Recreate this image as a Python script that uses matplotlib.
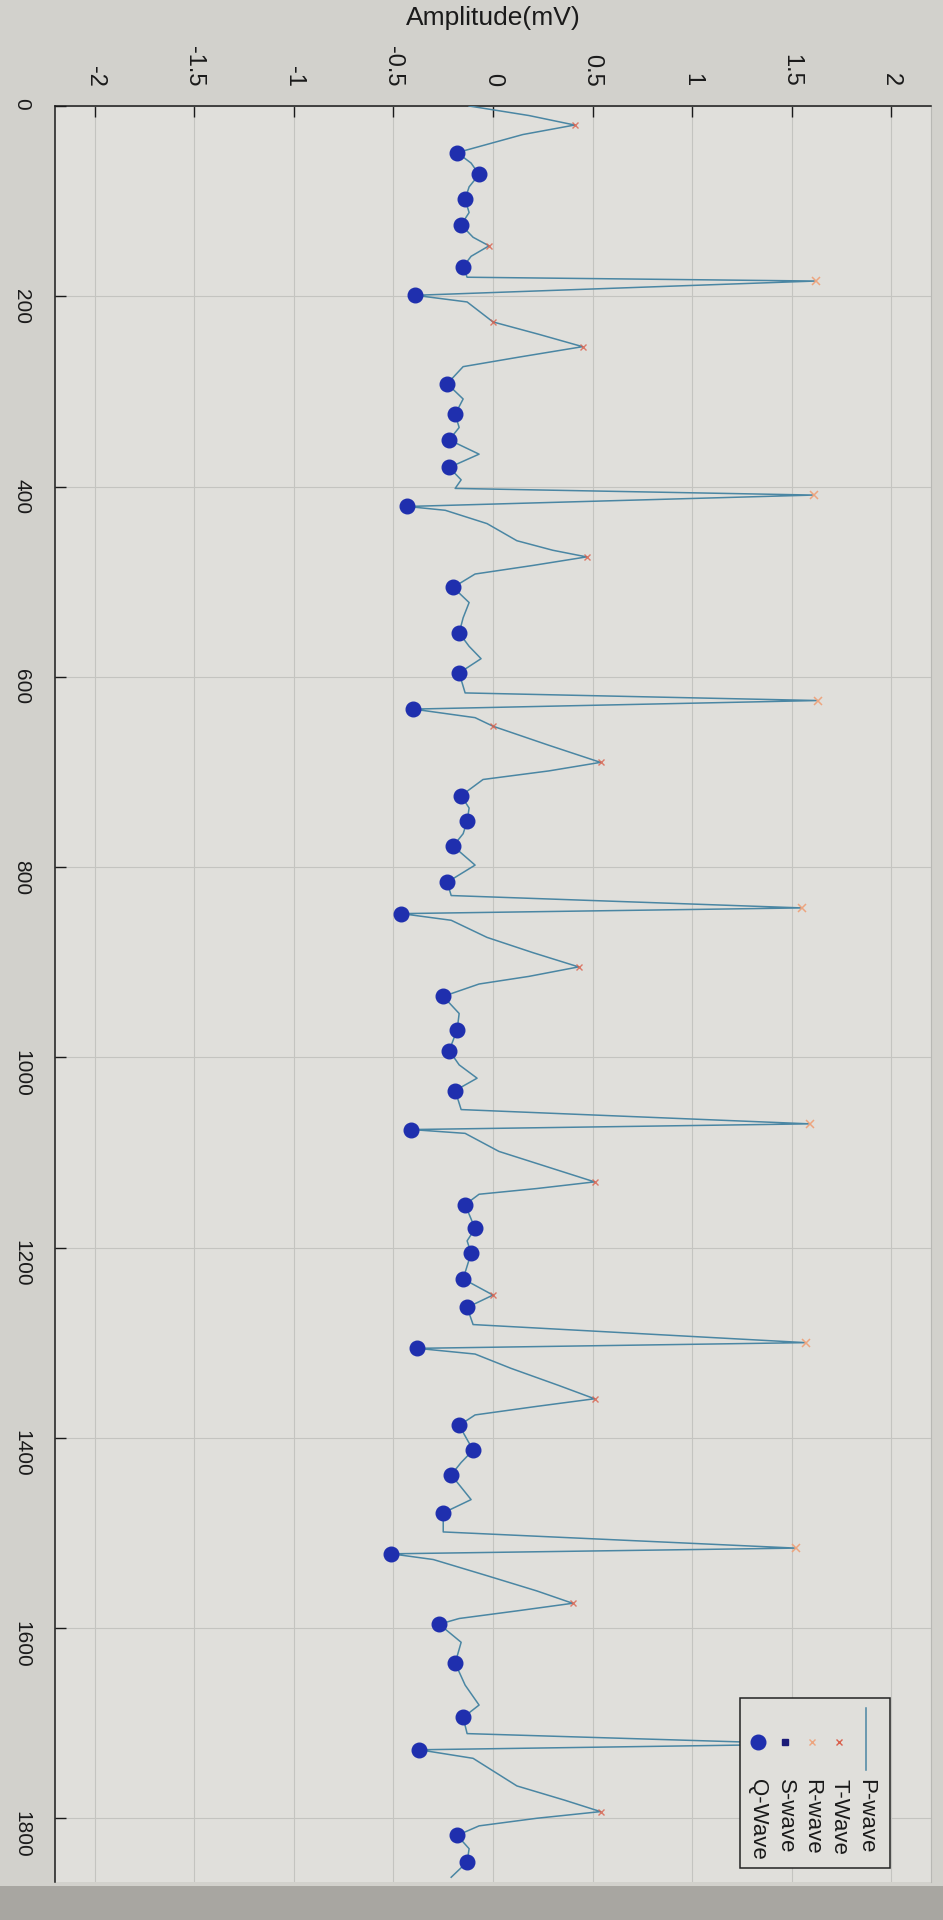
"""ECG trace with detected P/Q/R/S/T points, drawn rotated (samples run down the page)."""

import matplotlib.pyplot as plt
from matplotlib.lines import Line2D
from matplotlib.patches import Rectangle

plt.rcParams['font.family'] = ['Liberation Sans', 'DejaVu Sans']

# ── Data ────────────────────────────────────────────────────────────────────
sample_pts = [0, 10, 20, 30, 49, 60, 72, 85, 98, 112, 125, 138, 147, 158, 169,
              180, 184, 199, 206, 227, 240, 253, 264, 274, 292, 308, 324, 338,
              351, 366, 380, 393, 402, 409, 421, 425, 439, 457, 467, 474, 483,
              492, 506, 522, 538, 554, 568, 581, 596, 617, 625, 634, 643, 652,
              672, 690, 699, 708, 725, 738, 752, 765, 778, 798, 816, 830, 843,
              849, 856, 874, 890, 905, 915, 923, 936, 954, 971, 993, 1008, 1022,
              1035, 1055, 1070, 1076, 1080, 1099, 1117, 1131, 1138, 1144, 1155,
              1180, 1193, 1206, 1233, 1250, 1263, 1281, 1300, 1306, 1312, 1327,
              1345, 1359, 1367, 1376, 1387, 1413, 1426, 1439, 1465, 1479, 1499,
              1516, 1522, 1528, 1545, 1561, 1574, 1582, 1590, 1596, 1615, 1637,
              1660, 1681, 1694, 1711, 1722, 1728, 1737, 1766, 1781, 1793, 1800,
              1808, 1818, 1832, 1846, 1862]
amp_pts = [-0.12, 0.18, 0.41, 0.15, -0.18, -0.11, -0.07, -0.12, -0.14, -0.12,
           -0.16, -0.10, -0.02, -0.11, -0.15, -0.13, 1.62, -0.39, -0.13, 0.00,
           0.23, 0.45, 0.13, -0.15, -0.23, -0.15, -0.19, -0.17, -0.22, -0.07,
           -0.22, -0.16, -0.19, 1.61, -0.43, -0.24, -0.03, 0.12, 0.30, 0.47,
           0.20, -0.09, -0.20, -0.12, -0.15, -0.17, -0.12, -0.06, -0.17, -0.14,
           1.63, -0.40, -0.09, 0.00, 0.28, 0.54, 0.28, -0.05, -0.16, -0.12,
           -0.13, -0.15, -0.20, -0.09, -0.23, -0.21, 1.55, -0.46, -0.21, -0.03,
           0.20, 0.43, 0.18, -0.07, -0.25, -0.17, -0.18, -0.22, -0.17, -0.08,
           -0.19, -0.16, 1.59, -0.41, -0.14, 0.03, 0.30, 0.51, 0.22, -0.07,
           -0.14, -0.09, -0.13, -0.11, -0.15, 0.00, -0.13, -0.10, 1.57, -0.38,
           -0.09, 0.09, 0.33, 0.51, 0.22, -0.09, -0.17, -0.10, -0.16, -0.21,
           -0.11, -0.25, -0.25, 1.52, -0.51, -0.30, -0.03, 0.22, 0.40, 0.12,
           -0.17, -0.27, -0.16, -0.19, -0.14, -0.07, -0.15, -0.13, 1.60, -0.37,
           -0.10, 0.12, 0.36, 0.54, 0.22, -0.07, -0.18, -0.12, -0.13, -0.21]

r_samples = [184, 409, 625, 843, 1070, 1300, 1516, 1722]
t_samples = [20, 147, 227, 253, 474, 652, 690, 905, 1131, 1250, 1359, 1574, 1793]
s_samples = [199, 421, 634, 849, 1076, 1306, 1522, 1728]
q_samples = [49, 72, 98, 125, 169, 199, 292, 324, 351, 380, 421, 506, 554, 596,
             634, 725, 752, 778, 816, 849, 936, 971, 993, 1035, 1076, 1155, 1180,
             1206, 1233, 1263, 1306, 1387, 1413, 1439, 1479, 1522, 1596, 1637,
             1694, 1728, 1818, 1846]

amp_ticks = [-2, -1.5, -1, -0.5, 0, 0.5, 1, 1.5, 2]
amp_labels = ['-2', '-1.5', '-1', '-0.5', '0', '0.5', '1', '1.5', '2']
sample_ticks = [0, 200, 400, 600, 800, 1000, 1200, 1400, 1600, 1800]
legend_labels = ['P-wave', 'T-Wave', 'R-wave', 'S-wave', 'Q-Wave']

assert len(sample_pts) == len(amp_pts)
amp_at = dict(zip(sample_pts, amp_pts))

# ── Style ───────────────────────────────────────────────────────────────────
FIG_BG = '#d2d1cc'
AX_BG = '#e0dfdb'
SIG_C = '#4a86a3'
Q_C = '#1f2fae'
S_C = '#1b1b78'
R_C = '#eda57f'
T_C = '#d9604c'
W, H = 943, 1920


def fx(px):
    return px / W


def fy(py):
    return 1 - py / H


fig = plt.figure(figsize=(W / 100, H / 100), dpi=100, facecolor=FIG_BG)
ax = fig.add_axes([fx(55), fy(1882), (931 - 55) / W, (1882 - 106) / H])
ax.set_facecolor(AX_BG)

# rotated view: amplitude across, samples down
ax.plot(amp_pts, sample_pts, color=SIG_C, lw=1.1, zorder=3)
ax.plot([amp_at[s] for s in s_samples], s_samples, 's', color=S_C, ms=5, zorder=4)
ax.plot([amp_at[s] for s in q_samples], q_samples, 'o', color=Q_C, mec=Q_C,
        ms=10.5, zorder=5)
ax.plot([amp_at[s] for s in r_samples], r_samples, 'x', color=R_C, ms=5.5,
        mew=1.1, zorder=6)
ax.plot([amp_at[s] for s in t_samples], t_samples, 'x', color=T_C, ms=5,
        mew=1.0, alpha=0.8, zorder=6)

ax.set_xlim(-2.2, 2.2)
ax.set_ylim(1867, 0)

ax.xaxis.tick_top()
ax.set_xticks(amp_ticks)
ax.set_xticklabels(amp_labels, rotation=270, fontsize=17)
ax.set_yticks(sample_ticks)
ax.set_yticklabels([str(s) for s in sample_ticks], rotation=270, fontsize=15)
ax.tick_params(axis='x', direction='in', length=8, width=1, pad=14, colors='#1a1a1a')
ax.tick_params(axis='y', direction='in', length=8, width=1, pad=17, colors='#1a1a1a')

ax.set_xlabel('Amplitude(mV)', fontsize=19, color='#1a1a1a', va='center')
ax.xaxis.set_label_position('top')
ax.xaxis.set_label_coords(0.5, 1 + (106 - 25) / (1882 - 106))

ax.grid(True, color='#c4c4c0', lw=0.8)
ax.set_axisbelow(True)
for side in ['top', 'left']:
    ax.spines[side].set_color('#1a1a1a')
    ax.spines[side].set_linewidth(1.1)
ax.spines['right'].set_color('#b8b8b4')
ax.spines['bottom'].set_visible(False)

# ── Legend (manual, rotated like the rest of the photo) ────────────────────
fig.add_artist(Rectangle((fx(740), fy(1868)), (890 - 740) / W, (1868 - 1698) / H,
                         transform=fig.transFigure, facecolor=AX_BG,
                         edgecolor='#222222', lw=1.1, zorder=10))
col_x = [866, 839, 812, 785, 758]
fig.add_artist(Line2D([fx(866), fx(866)], [fy(1708), fy(1770)],
                      transform=fig.transFigure, color=SIG_C, lw=1.1, zorder=11))
legend_marks = [None, ('x', T_C, 5, 1.0), ('x', R_C, 5, 1.0),
                ('s', S_C, 5, 1.0), ('o', Q_C, 10.5, 1.0)]
for x, mk in zip(col_x, legend_marks):
    if mk is None:
        continue
    m, c, ms, mew = mk
    fig.add_artist(Line2D([fx(x)], [fy(1742)], transform=fig.transFigure,
                          marker=m, color=c, mec=c, ms=ms, mew=mew, zorder=11))
for x, lab in zip(col_x, legend_labels):
    fig.text(fx(x), fy(1779), lab, rotation=270, rotation_mode='anchor',
             ha='left', va='center', fontsize=16, color='#1a1a1a', zorder=12)

# darker strip where the screen ends at the bottom of the photo
fig.add_artist(Rectangle((0, 0), 1, (H - 1886) / H, transform=fig.transFigure,
                         facecolor='#a8a6a1', edgecolor='none', zorder=0.5))

fig.savefig('out.png', dpi=100, facecolor=FIG_BG)
